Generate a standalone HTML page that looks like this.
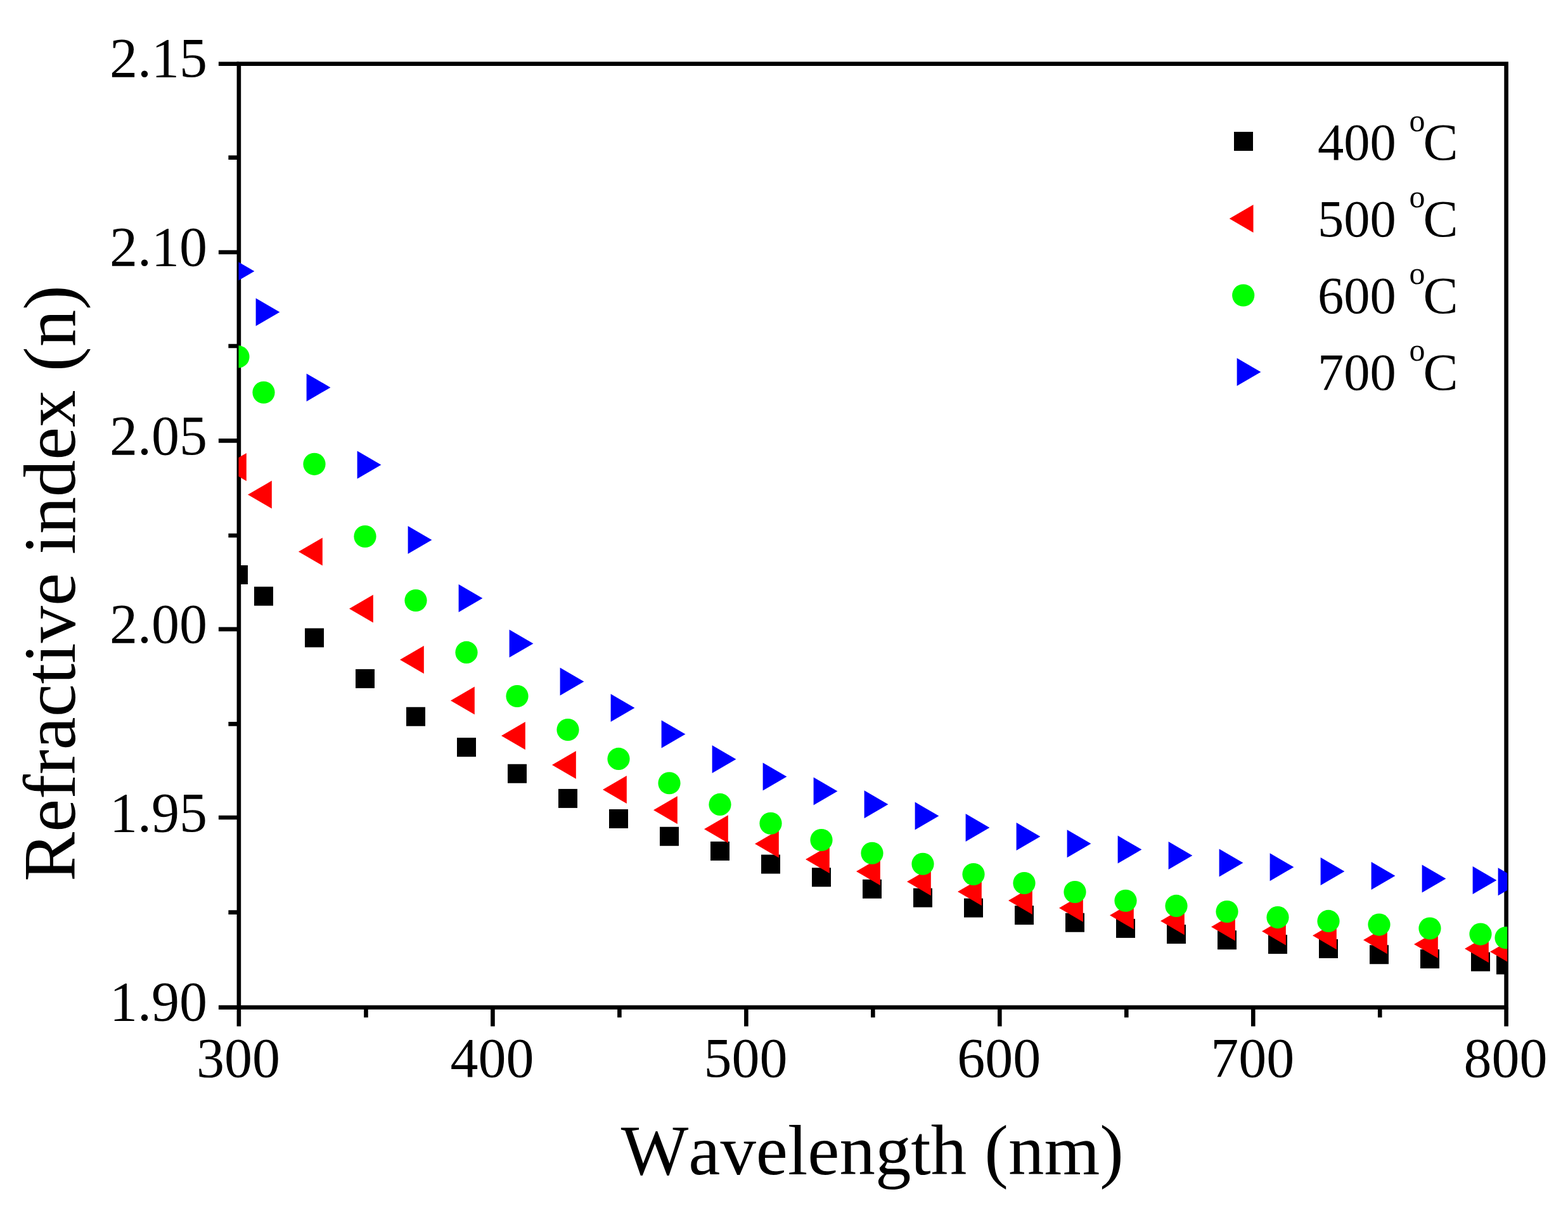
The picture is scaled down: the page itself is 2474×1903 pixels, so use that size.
<!DOCTYPE html>
<html lang="en">
<head>
<meta charset="utf-8">
<title>Refractive index vs wavelength</title>
<style>
html,body{margin:0;padding:0;background:#fff;}
body{width:2474px;height:1903px;overflow:hidden;}
svg{display:block;}
text{font-family:"Liberation Serif","Times New Roman",serif;fill:#000;font-kerning:none;font-variant-ligatures:none;}
.tk{font-size:88px;}
.ax{font-size:115px;}
.lg{font-size:82.5px;}
</style>
</head>
<body>
<svg role="img" aria-label="Refractive index versus wavelength" width="2474" height="1903" viewBox="0 0 2474 1903">
<rect width="2474" height="1903" fill="#fff"/>
<defs><clipPath id="plot"><rect x="376.5" y="97" width="2001.7" height="1496"/></clipPath></defs>
<g fill="none" stroke="#000" stroke-width="6.6">
<rect x="376.9" y="100.7" width="1999.7" height="1488.9"/>
<path d="M376.9 1589.6V1619.6M577.47 1589.6V1605.6M777.44 1589.6V1619.6M977.41 1589.6V1605.6M1177.38 1589.6V1619.6M1377.35 1589.6V1605.6M1577.32 1589.6V1619.6M1777.29 1589.6V1605.6M1977.26 1589.6V1619.6M2177.23 1589.6V1605.6M2376.6 1589.6V1619.6M376.9 100.7H344.9M376.9 248.6H360.4M376.9 398H344.9M376.9 546H360.4M376.9 695.4H344.9M376.9 845H360.4M376.9 992.9H344.9M376.9 1142.4H360.4M376.9 1290H344.9M376.9 1439.6H360.4M376.9 1589.6H344.9"/>
</g>
<g clip-path="url(#plot)">
<g fill="#000"><rect x="361" y="892" width="30" height="30"/><rect x="401" y="925.75" width="30" height="30"/><rect x="481" y="991.4" width="30" height="30"/><rect x="561" y="1055.9" width="30" height="30"/><rect x="641" y="1115.75" width="30" height="30"/><rect x="721" y="1164.1" width="30" height="30"/><rect x="801" y="1205.75" width="30" height="30"/><rect x="881" y="1244.9" width="30" height="30"/><rect x="961" y="1277" width="30" height="30"/><rect x="1041" y="1304.75" width="30" height="30"/><rect x="1121" y="1327.9" width="30" height="30"/><rect x="1201" y="1348.6" width="30" height="30"/><rect x="1281" y="1369.25" width="30" height="30"/><rect x="1361" y="1387.75" width="30" height="30"/><rect x="1441" y="1401.6" width="30" height="30"/><rect x="1521" y="1417.6" width="30" height="30"/><rect x="1601" y="1429.1" width="30" height="30"/><rect x="1681" y="1440.75" width="30" height="30"/><rect x="1761" y="1449.9" width="30" height="30"/><rect x="1841" y="1459.1" width="30" height="30"/><rect x="1921" y="1468.25" width="30" height="30"/><rect x="2001" y="1475.1" width="30" height="30"/><rect x="2081" y="1482" width="30" height="30"/><rect x="2161" y="1491.25" width="30" height="30"/><rect x="2241" y="1498.1" width="30" height="30"/><rect x="2321" y="1502.6" width="30" height="30"/><rect x="2361" y="1507.5" width="30" height="30"/></g>
<g fill="#f00"><path d="M351 736.9L388.8 714.9L388.8 758.9Z"/><path d="M391 780.6L428.8 758.6L428.8 802.6Z"/><path d="M471 870.6L508.8 848.6L508.8 892.6Z"/><path d="M551 960.4L588.8 938.4L588.8 982.4Z"/><path d="M631 1041L668.8 1019L668.8 1063Z"/><path d="M711 1105.6L748.8 1083.6L748.8 1127.6Z"/><path d="M791 1161L828.8 1139L828.8 1183Z"/><path d="M871 1206.9L908.8 1184.9L908.8 1228.9Z"/><path d="M951 1246.1L988.8 1224.1L988.8 1268.1Z"/><path d="M1031 1278.25L1068.8 1256.25L1068.8 1300.25Z"/><path d="M1111 1308.25L1148.8 1286.25L1148.8 1330.25Z"/><path d="M1191 1331.4L1228.8 1309.4L1228.8 1353.4Z"/><path d="M1271 1356L1308.8 1334L1308.8 1378Z"/><path d="M1351 1375L1388.8 1353L1388.8 1397Z"/><path d="M1431 1391.25L1468.8 1369.25L1468.8 1413.25Z"/><path d="M1511 1407L1548.8 1385L1548.8 1429Z"/><path d="M1591 1421L1628.8 1399L1628.8 1443Z"/><path d="M1671 1432.75L1708.8 1410.75L1708.8 1454.75Z"/><path d="M1751 1444.25L1788.8 1422.25L1788.8 1466.25Z"/><path d="M1831 1453.25L1868.8 1431.25L1868.8 1475.25Z"/><path d="M1911 1462.5L1948.8 1440.5L1948.8 1484.5Z"/><path d="M1991 1469.4L2028.8 1447.4L2028.8 1491.4Z"/><path d="M2071 1476.25L2108.8 1454.25L2108.8 1498.25Z"/><path d="M2151 1483.25L2188.8 1461.25L2188.8 1505.25Z"/><path d="M2231 1490L2268.8 1468L2268.8 1512Z"/><path d="M2311 1497L2348.8 1475L2348.8 1519Z"/><path d="M2351 1501.75L2388.8 1479.75L2388.8 1523.75Z"/></g>
<g fill="#0f0"><circle cx="376" cy="562.9" r="17.6"/><circle cx="416" cy="619.25" r="17.6"/><circle cx="496" cy="732.3" r="17.6"/><circle cx="576" cy="846.5" r="17.6"/><circle cx="656" cy="947.5" r="17.6"/><circle cx="736" cy="1029.4" r="17.6"/><circle cx="816" cy="1098.5" r="17.6"/><circle cx="896" cy="1151.5" r="17.6"/><circle cx="976" cy="1197.4" r="17.6"/><circle cx="1056" cy="1235.75" r="17.6"/><circle cx="1136" cy="1269.4" r="17.6"/><circle cx="1216" cy="1299.25" r="17.6"/><circle cx="1296" cy="1325.5" r="17.6"/><circle cx="1376" cy="1346.25" r="17.6"/><circle cx="1456" cy="1363.25" r="17.6"/><circle cx="1536" cy="1379.5" r="17.6"/><circle cx="1616" cy="1393.5" r="17.6"/><circle cx="1696" cy="1407.5" r="17.6"/><circle cx="1776" cy="1421.25" r="17.6"/><circle cx="1856" cy="1429.4" r="17.6"/><circle cx="1936" cy="1438.5" r="17.6"/><circle cx="2016" cy="1447.6" r="17.6"/><circle cx="2096" cy="1453.4" r="17.6"/><circle cx="2176" cy="1459.1" r="17.6"/><circle cx="2256" cy="1465" r="17.6"/><circle cx="2336" cy="1474.1" r="17.6"/><circle cx="2376" cy="1479.75" r="17.6"/></g>
<g fill="#00f"><path d="M401.4 428L363.6 406L363.6 450Z"/><path d="M441.4 492.5L403.6 470.5L403.6 514.5Z"/><path d="M521.4 611.4L483.6 589.4L483.6 633.4Z"/><path d="M601.4 733.5L563.6 711.5L563.6 755.5Z"/><path d="M681.4 852L643.6 830L643.6 874Z"/><path d="M761.4 944L723.6 922L723.6 966Z"/><path d="M841.4 1015.6L803.6 993.6L803.6 1037.6Z"/><path d="M921.4 1075.6L883.6 1053.6L883.6 1097.6Z"/><path d="M1001.4 1117L963.6 1095L963.6 1139Z"/><path d="M1081.4 1158.4L1043.6 1136.4L1043.6 1180.4Z"/><path d="M1161.4 1197.9L1123.6 1175.9L1123.6 1219.9Z"/><path d="M1241.4 1225.5L1203.6 1203.5L1203.6 1247.5Z"/><path d="M1321.4 1248.6L1283.6 1226.6L1283.6 1270.6Z"/><path d="M1401.4 1269.25L1363.6 1247.25L1363.6 1291.25Z"/><path d="M1481.4 1287.6L1443.6 1265.6L1443.6 1309.6Z"/><path d="M1561.4 1306.1L1523.6 1284.1L1523.6 1328.1Z"/><path d="M1641.4 1319.9L1603.6 1297.9L1603.6 1341.9Z"/><path d="M1721.4 1331.25L1683.6 1309.25L1683.6 1353.25Z"/><path d="M1801.4 1340.6L1763.6 1318.6L1763.6 1362.6Z"/><path d="M1881.4 1349.9L1843.6 1327.9L1843.6 1371.9Z"/><path d="M1961.4 1361.4L1923.6 1339.4L1923.6 1383.4Z"/><path d="M2041.4 1368.2L2003.6 1346.2L2003.6 1390.2Z"/><path d="M2121.4 1375.1L2083.6 1353.1L2083.6 1397.1Z"/><path d="M2201.4 1382L2163.6 1360L2163.6 1404Z"/><path d="M2281.4 1386.6L2243.6 1364.6L2243.6 1408.6Z"/><path d="M2361.4 1389L2323.6 1367L2323.6 1411Z"/><path d="M2401.4 1391.25L2363.6 1369.25L2363.6 1413.25Z"/></g>
</g>
<g class="tk" text-anchor="middle">
<text x="375.9" y="1699.2">300</text>
<text x="776.44" y="1699.2">400</text>
<text x="1176.38" y="1699.2">500</text>
<text x="1576.32" y="1699.2">600</text>
<text x="1976.26" y="1699.2">700</text>
<text x="2375.6" y="1699.2">800</text>
</g>
<g class="tk" text-anchor="end">
<text x="327" y="121.4">2.15</text>
<text x="327" y="419.04">2.10</text>
<text x="327" y="716.68">2.05</text>
<text x="327" y="1014.32">2.00</text>
<text x="327" y="1311.96">1.95</text>
<text x="327" y="1609.6">1.90</text>
</g>
<text class="ax" x="1376.3" y="1853.4" text-anchor="middle" style="font-size:112.9px">Wavelength (nm)</text>
<text class="ax" transform="translate(117.5 920.4) rotate(-90)" text-anchor="middle" style="font-size:116.85px">Refractive index (n)</text>
<g fill="#000"><rect x="1947" y="208" width="30" height="30"/></g>
<g fill="#f00"><path d="M1939.7 345L1977.5 323L1977.5 367Z"/></g>
<g fill="#0f0"><circle cx="1961.7" cy="466" r="17.6"/></g>
<g fill="#00f"><path d="M1989.4 587L1951.6 565L1951.6 609Z"/></g>
<text class="lg" x="2079" y="252">400 <tspan dy="-45.5" style="font-size:50px">o</tspan><tspan dy="45.5" dx="-3">C</tspan></text>
<text class="lg" x="2079" y="372.9">500 <tspan dy="-45.5" style="font-size:50px">o</tspan><tspan dy="45.5" dx="-3">C</tspan></text>
<text class="lg" x="2079" y="493.8">600 <tspan dy="-45.5" style="font-size:50px">o</tspan><tspan dy="45.5" dx="-3">C</tspan></text>
<text class="lg" x="2079" y="614.7">700 <tspan dy="-45.5" style="font-size:50px">o</tspan><tspan dy="45.5" dx="-3">C</tspan></text>
</svg>
</body>
</html>
